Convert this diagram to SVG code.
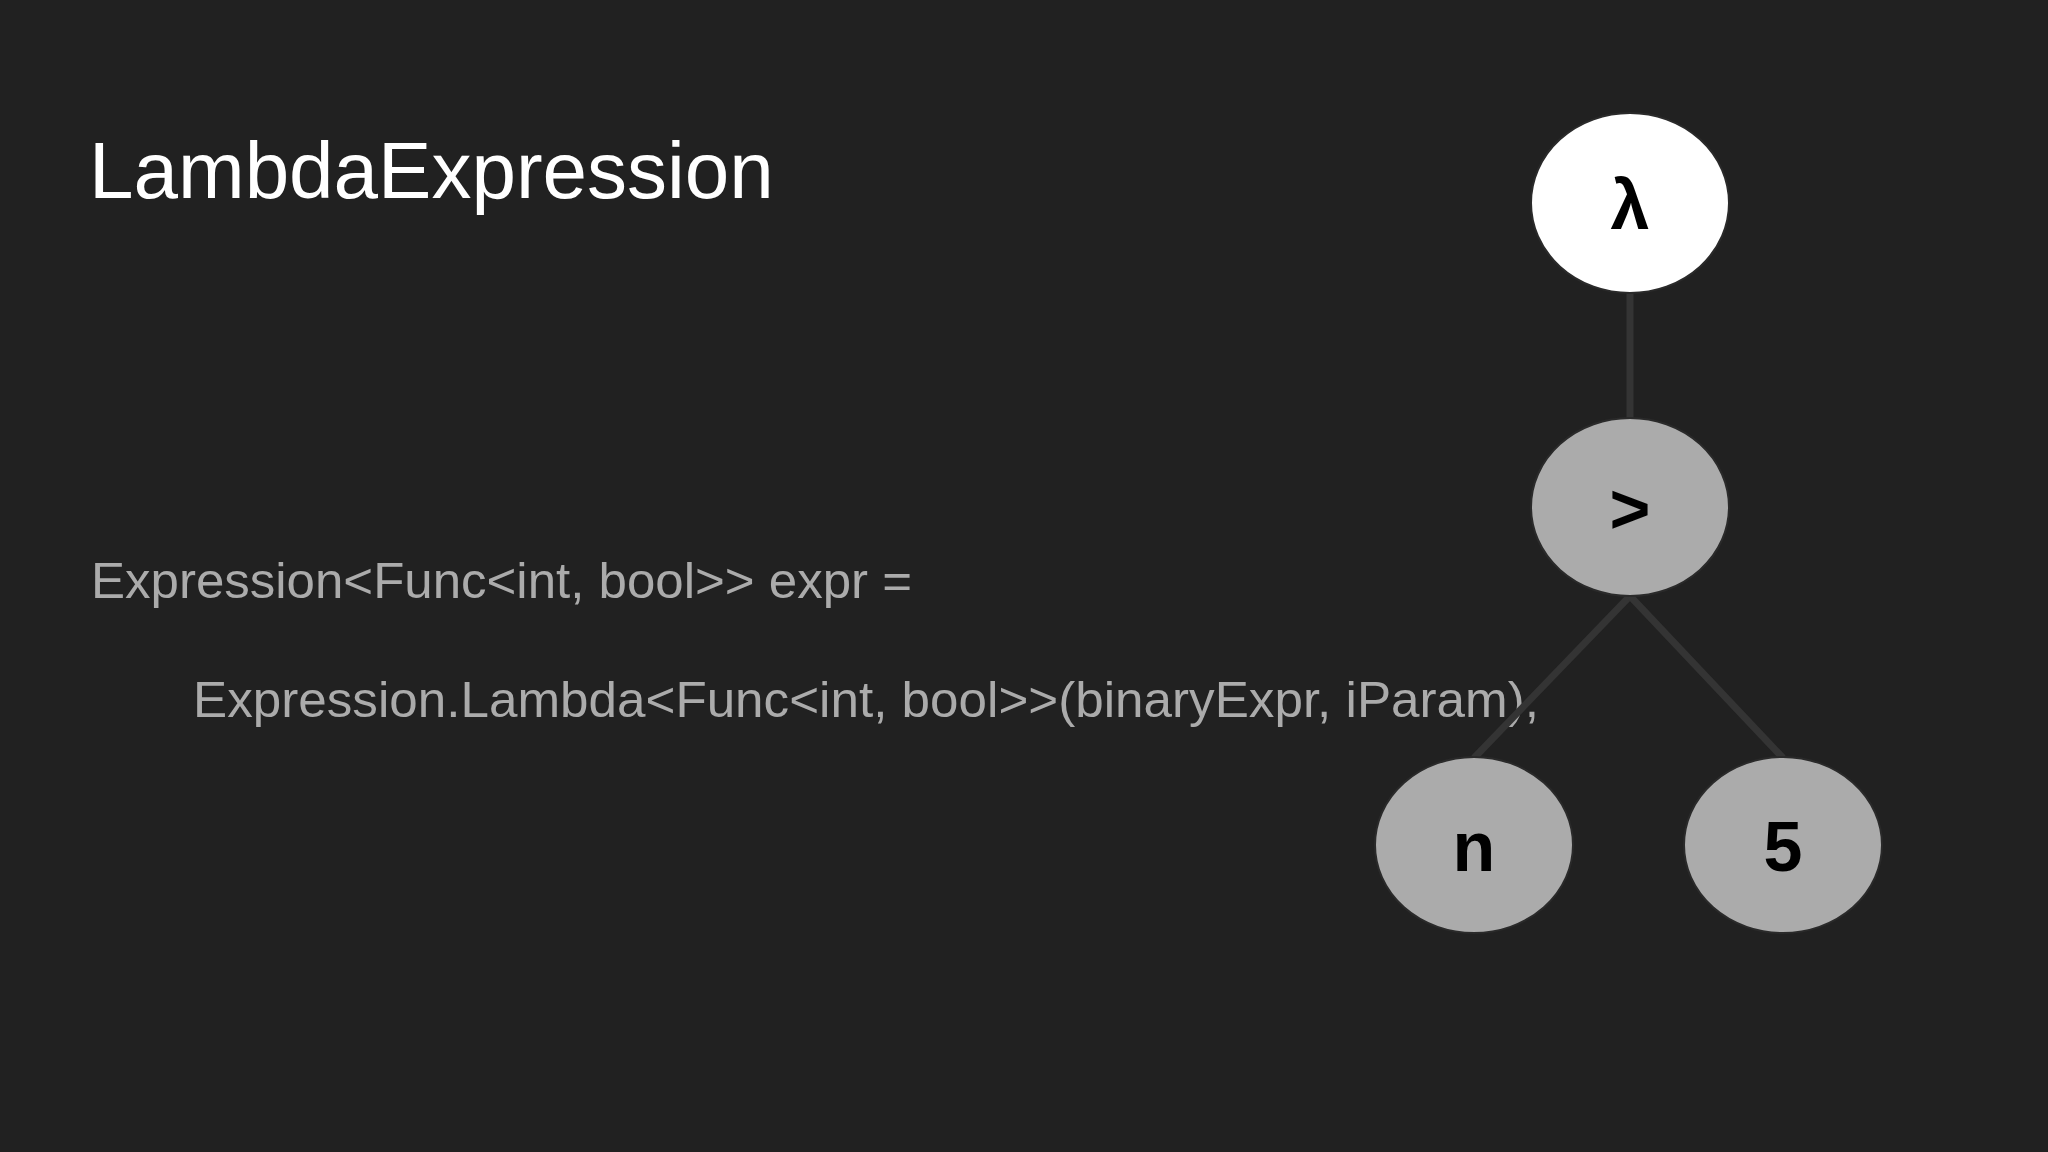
<svg xmlns="http://www.w3.org/2000/svg" width="2048" height="1152" viewBox="0 0 2048 1152">
  <style>
    .title { font-family: "Liberation Sans", Arial, sans-serif; font-size: 80px; fill: #ffffff; }
    .code { font-family: "Liberation Sans", Arial, sans-serif; font-size: 50px; fill: #ababab; }
    .node-white { fill: #ffffff; stroke: #2a2a2a; stroke-width: 2; }
    .node-gray { fill: #ababab; stroke: #2a2a2a; stroke-width: 2; }
    .label { font-family: "Liberation Sans", Arial, sans-serif; font-weight: bold; font-size: 70px; fill: #000000; text-anchor: middle; }
    .edge { stroke: #343434; stroke-width: 7; fill: none; }
  </style>
  <rect x="0" y="0" width="2048" height="1152" fill="#212121"/>

  <g id="text">
    <text class="title" x="89" y="198">LambdaExpression</text>
    <text class="code" x="91" y="598" textLength="821" lengthAdjust="spacingAndGlyphs">Expression&lt;Func&lt;int, bool&gt;&gt; expr =</text>
    <text class="code" x="193" y="717" textLength="1346" lengthAdjust="spacingAndGlyphs">Expression.Lambda&lt;Func&lt;int, bool&gt;&gt;(binaryExpr, iParam),</text>
  </g>

  <g id="connectors">
    <line class="edge" x1="1630" y1="290" x2="1630" y2="420"/>
    <line class="edge" x1="1630" y1="596" x2="1474" y2="758"/>
    <line class="edge" x1="1630" y1="596" x2="1783" y2="758"/>
  </g>

  <g id="node-lambda">
    <ellipse class="node-white" cx="1630" cy="203" rx="99" ry="90"/>
    <text class="label" x="1630" y="229">λ</text>
  </g>
  <g id="node-gt">
    <ellipse class="node-gray" cx="1630" cy="507" rx="99" ry="89"/>
    <text class="label" x="1630" y="533">&gt;</text>
  </g>
  <g id="node-n">
    <ellipse class="node-gray" cx="1474" cy="845" rx="99" ry="88"/>
    <text class="label" x="1474" y="871">n</text>
  </g>
  <g id="node-5">
    <ellipse class="node-gray" cx="1783" cy="845" rx="99" ry="88"/>
    <text class="label" x="1783" y="871">5</text>
  </g>
</svg>
